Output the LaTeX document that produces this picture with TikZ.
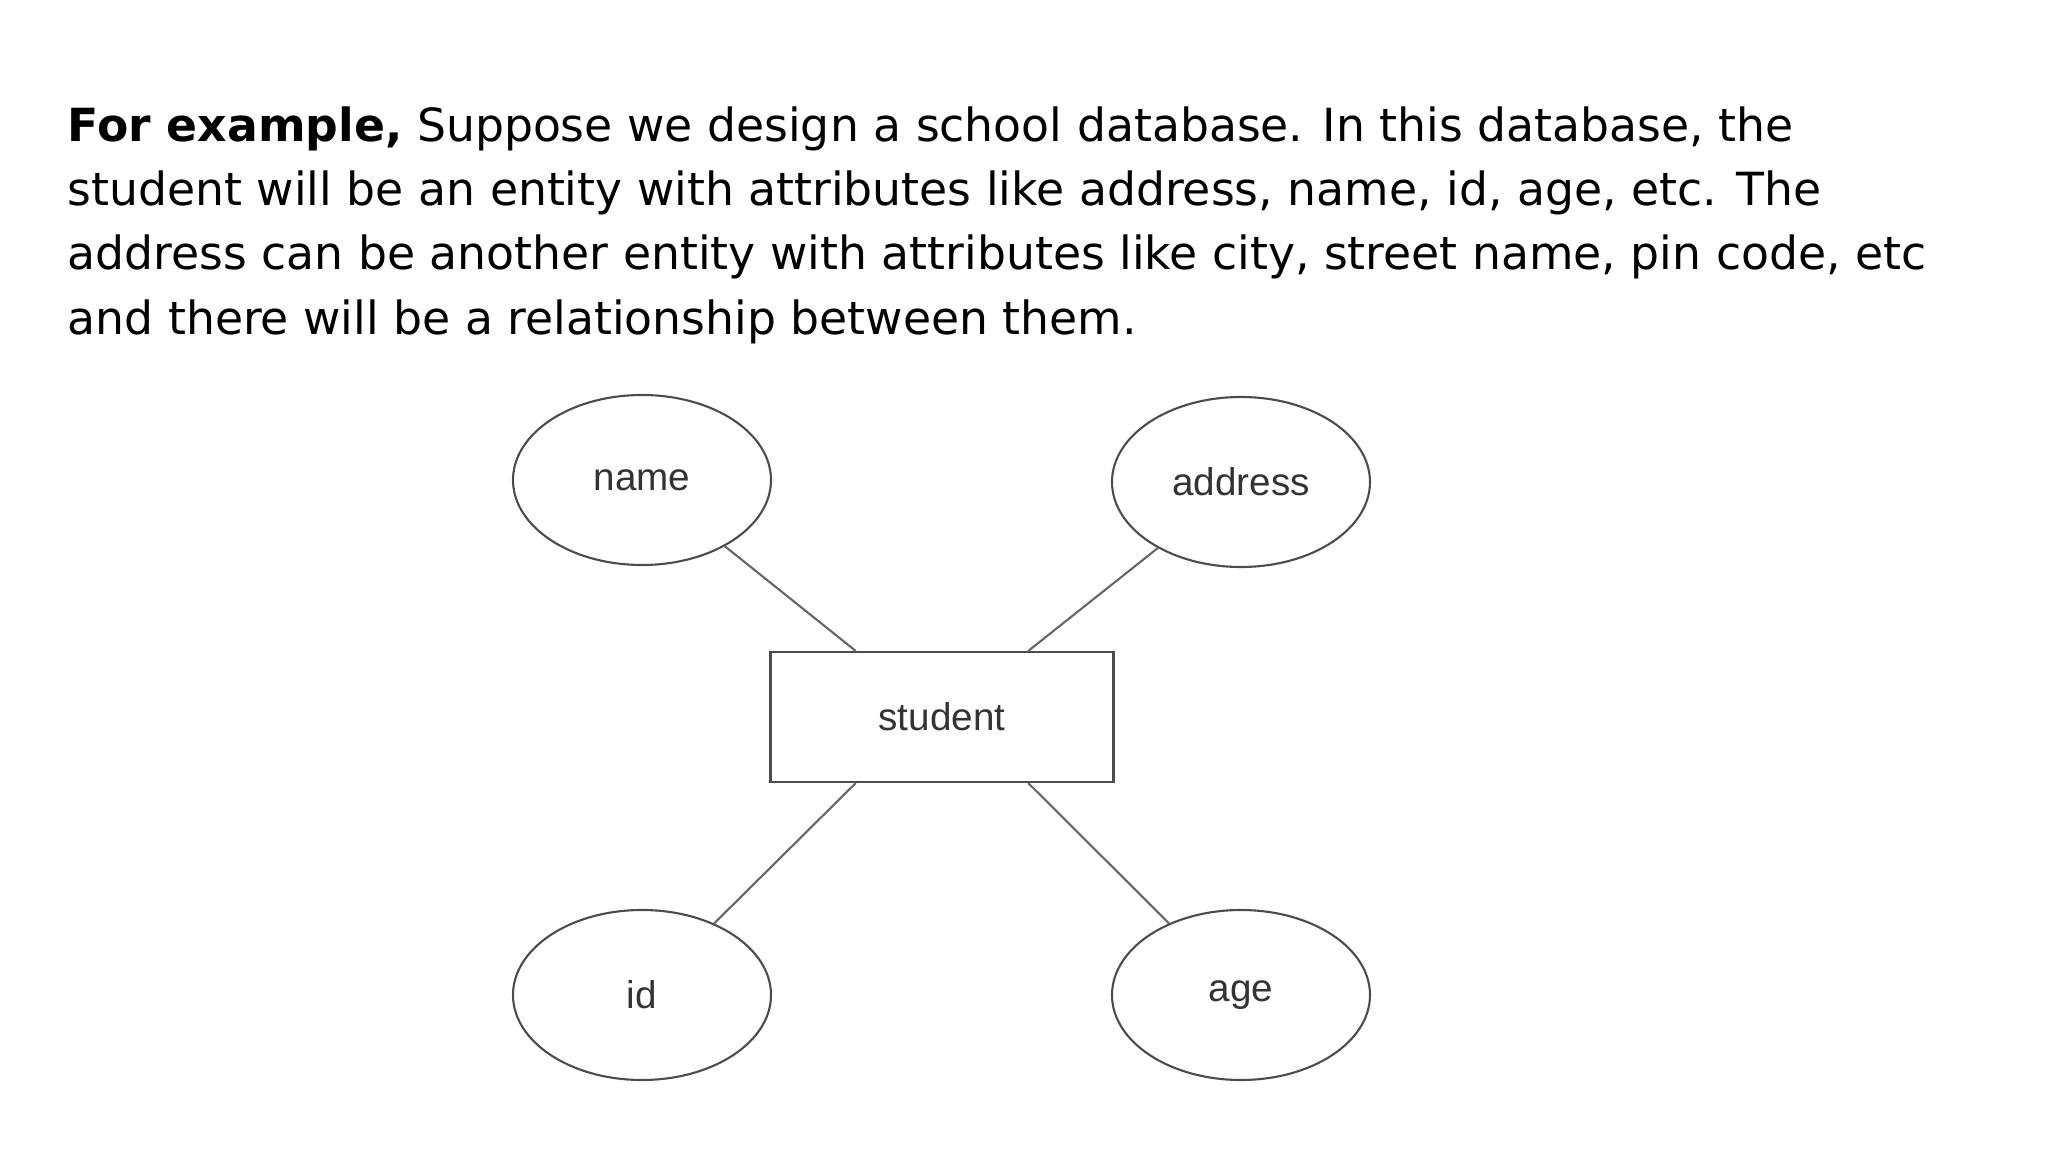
\documentclass[tikz,border=0pt]{standalone}
\usepackage{fontspec}
\setmainfont{DejaVu Sans}
\newfontfamily\labelfont{Liberation Sans}
\usetikzlibrary{shapes.geometric,calc}
\tikzset{
  attr/.style={ellipse,draw=black!70,line width=0.6pt,minimum width=2.58cm,minimum height=1.70cm,font=\labelfont\fontsize{11}{13}\selectfont,text=black!80},
  entity/.style={rectangle,draw=black!70,line width=0.6pt,minimum width=3.43cm,minimum height=1.30cm,font=\labelfont\fontsize{11}{13}\selectfont,text=black!80},
  link/.style={draw=black!60,line width=0.6pt},
  textline/.style={anchor=base west,inner sep=0pt,font=\fontsize{13}{16}\selectfont}
}
\begin{document}
\begin{tikzpicture}
\useasboundingbox (0,0) rectangle (20.48,-11.52);
% paragraph
\node[textline] (line1) at (0.67,-1.42) {\textbf{For example,} Suppose we design a school database. In this database, the};
\node[textline] (line2) at (0.67,-2.06) {student will be an entity with attributes like address, name, id, age, etc. The};
\node[textline] (line3) at (0.67,-2.70) {address can be another entity with attributes like city, street name, pin code, etc};
\node[textline] (line4) at (0.67,-3.35) {and there will be a relationship between them.};
% diagram
\node[entity] (student) at (9.42,-7.17) {student};
\node[attr] (name) at (6.42,-4.80) {name};
\node[attr] (address) at (12.41,-4.82) {address};
\node[attr] (id) at (6.42,-9.95) {id};
\node[attr] (age) at (12.41,-9.95) {age};
\coordinate (tl) at ($(student.north west)!0.25!(student.north east)$);
\coordinate (tr) at ($(student.north west)!0.75!(student.north east)$);
\coordinate (bl) at ($(student.south west)!0.25!(student.south east)$);
\coordinate (br) at ($(student.south west)!0.75!(student.south east)$);
\draw[link] (name) -- (tl);
\draw[link] (address) -- (tr);
\draw[link] (id) -- (bl);
\draw[link] (age) -- (br);
\end{tikzpicture}
\end{document}
